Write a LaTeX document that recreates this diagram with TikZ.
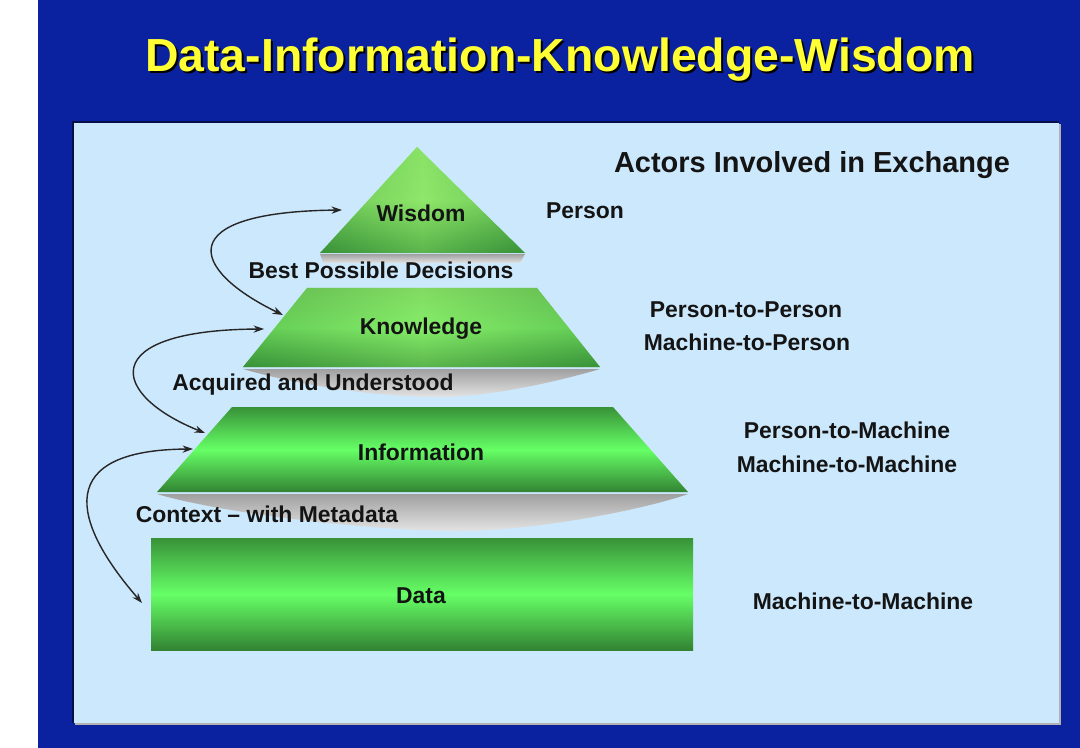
\documentclass[tikz,border=0pt]{standalone}
\usepackage{fontspec}
\setmainfont{Liberation Sans}
\usetikzlibrary{arrows.meta, positioning}
\definecolor{cnavy}{HTML}{0A22A0}
\definecolor{cpanel}{HTML}{CCE8FC}
\definecolor{cyellow}{HTML}{FFFF33}
\definecolor{cdark}{HTML}{389238}
\definecolor{cbright}{HTML}{66FF66}
\definecolor{cpale}{HTML}{8FE86A}
\definecolor{cshadow}{HTML}{A0A0A0}
\tikzset{
  every picture/.style={x=0.025cm, y=-0.025cm},
  lbl/.style={font=\bfseries\fontsize{16.3}{19}\selectfont, text=black!92, inner sep=0pt, anchor=base},
  actors/.style={font=\bfseries\fontsize{20.6}{24}\selectfont, text=black!92, inner sep=0pt, anchor=base},
  headline/.style={font=\bfseries\fontsize{33}{38}\selectfont, inner sep=0pt, anchor=base},
  layer/.style={top color=cdark, bottom color=cdark!90!black, middle color=cbright},
  sides/.style={left color=cdark, right color=cdark, middle color=cpale, opacity=0.4},
  drop/.style={top color=cshadow, bottom color=gray!22},
  link/.style={{Stealth[length=2.6mm, width=1.8mm]}-{Stealth[length=2.6mm, width=1.8mm]}, line width=1pt, black!85},
}

\begin{document}
\begin{tikzpicture}
  \useasboundingbox (0,0) rectangle (1080,748);
  % backdrop and panel
  \fill[white] (0,0) rectangle (1080,748);
  \fill[cnavy] (38,0) rectangle (1080,748);
  \fill[black!30] (75,124) rectangle (1061,725);
  \fill[cpanel] (73,122) rectangle (1059,723);
  \draw[cnavy!45!black, line width=1.3pt] (73,723) -- (73,122) -- (1059,122);
  % title
  \node[headline, text=black] (ttl-sh) at (562,74) {Data-Information-Knowledge-Wisdom};
  \node[headline, text=cyellow] (ttl) at (560,72) {Data-Information-Knowledge-Wisdom};

  % shadows under the layers
  \shade[drop] (320,254) -- (525,254) -- (520,263) -- (323,263) -- cycle;
  \shade[drop] (243,369) -- (600,369) .. controls (560,381) and (490,397) .. (440,397)
    .. controls (370,397) and (290,383) .. (243,369) -- cycle;
  \shade[drop] (157,494) -- (688,494) .. controls (640,511) and (530,531) .. (460,531)
    .. controls (370,531) and (220,513) .. (157,494) -- cycle;

  % pyramid layers
  \shade[top color=cpale!90!cdark, bottom color=cdark, middle color=cpale] (417,147) -- (525,253) -- (320,253) -- cycle;
  \shade[sides] (417,147) -- (525,253) -- (320,253) -- cycle;
  \shade[top color=cpale!75!cdark, bottom color=cdark, middle color=cpale!60!cbright] (307,288) -- (537,288) -- (600,367) -- (243,367) -- cycle;
  \shade[sides] (307,288) -- (537,288) -- (600,367) -- (243,367) -- cycle;
  \shade[layer] (232,407) -- (613,407) -- (688,492) -- (157,492) -- cycle;
  \shade[layer] (151,538) rectangle (693,650);

  % level labels
  \node[lbl] (wis) at (421,222) {Wisdom};
  \node[lbl] (bpd) at (381,278) {Best Possible Decisions};
  \node[lbl] (kno) at (421,334) {Knowledge};
  \node[lbl] (acq) at (313,390) {Acquired and Understood};
  \node[lbl] (inf) at (421,460) {Information};
  \node[lbl] (ctx) at (267,522) {Context -- with Metadata};
  \node[lbl] (dat) at (421,603) {Data};

  % actors
  \node[actors] (act) at (812,173) {Actors Involved in Exchange};
  \node[lbl] (a1) at (585,219) {Person};
  \node[lbl] (a2) at (746,317) {Person-to-Person};
  \node[lbl] (a3) at (747,350) {Machine-to-Person};
  \node[lbl] (a4) at (847,438) {Person-to-Machine};
  \node[lbl] (a5) at (847,472) {Machine-to-Machine};
  \node[lbl] (a6) at (863,609) {Machine-to-Machine};

  % exchange loops between levels
  \coordinate (wis-in) at (342,210);
  \coordinate (kno-top) at (283,315);
  \coordinate (kno-in) at (264,329);
  \coordinate (inf-top) at (205,433);
  \coordinate (inf-in) at (193,449);
  \coordinate (dat-in) at (142,603);
  \draw[link] (wis-in) .. controls (170,212) and (190,270) .. (kno-top);
  \draw[link] (kno-in) .. controls (95,330) and (110,395) .. (inf-top);
  \draw[link] (inf-in) .. controls (55,450) and (70,520) .. (dat-in);
\end{tikzpicture}
\end{document}
